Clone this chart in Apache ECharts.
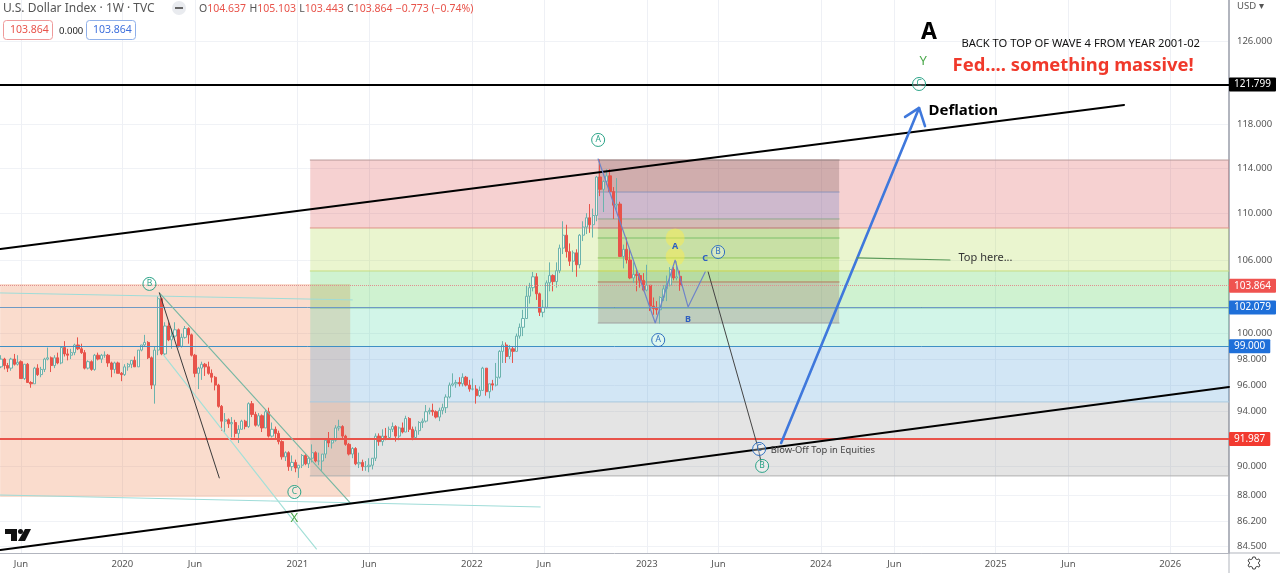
<!DOCTYPE html>
<html lang="en" style="height: 100%">
<head>
  <meta charset="utf-8">
</head>
<body style="height: 100%; margin: 0; background: #fff">
<div id="container" style="height: 100%"></div>

<script src="https://fastly.jsdelivr.net/npm/echarts@6/dist/echarts.min.js"></script>
<script>
  // weekly candles, first bar is the week of 2019-04-22
  var firstWeek = '2019-04-22';
  var opens = [
    97.4,98.0,97.5,97.3,98.0,97.6,97.8,96.5,97.6,96.2,96.1,97.3,96.8,97.2,98.0,98.1,97.5,98.1,97.7,98.9,98.4,98.3,98.5,99.1,98.8,98.5,97.3,97.8,97.2,98.3,98.0,98.3,98.3,97.7,97.2,97.7,96.9,
    96.8,97.4,97.6,97.9,97.4,98.7,99.1,99.3,98.1,96.0,98.7,102.8,98.4,100.6,99.5,99.8,100.3,99.0,99.7,100.4,99.9,98.3,96.9,97.3,97.6,97.4,96.9,96.6,96.0,94.4,93.3,93.4,93.1,93.2,92.4,92.7,93.3,92.9,94.6,93.8,93.0,93.7,92.8,94.0,92.2,92.7,92.4,91.8,90.7,91.0,90.0,90.3,
    89.9,90.1,90.8,90.2,90.6,91.0,90.4,90.4,90.9,91.9,91.7,91.9,92.8,92.9,92.2,91.6,90.9,91.3,90.2,90.3,90.0,90.0,90.1,90.6,92.2,91.8,92.2,92.1,92.7,92.9,92.2,92.8,92.5,93.5,92.7,92.1,92.6,93.2,93.3,94.0,94.1,94.0,93.6,94.1,94.3,95.1,96.0,96.1,96.2,96.1,96.6,96.0,
    95.7,95.7,95.2,95.6,97.3,95.5,96.1,96.0,96.6,98.6,99.1,98.2,98.8,98.6,99.8,100.5,101.2,103.0,103.7,104.6,103.2,101.7,102.1,104.1,104.7,104.2,105.1,107.0,108.1,106.7,105.9,106.6,105.6,108.1,108.8,109.6,109.0,109.8,113.2,112.1,112.8,113.3,111.9,110.7,110.8,106.3,106.9,106.0,104.5,104.8,104.7,104.3,
    103.5,103.9,102.2,102.0,101.9,102.9,103.6,103.9,105.2,104.5,104.637
  ];
  var highs = [
    98.3,98.1,97.7,98.1,98.4,98.3,97.9,97.6,97.7,96.3,97.4,97.6,97.4,98.1,98.9,98.2,98.3,98.5,99.0,99.4,98.8,98.8,99.2,99.7,99.2,98.7,97.9,97.9,98.4,98.5,98.4,98.6,98.4,97.8,97.8,97.8,97.0,
    97.6,97.7,97.9,98.2,98.7,99.1,99.9,99.4,98.2,99.0,102.99,102.9,100.9,100.9,100.4,100.9,100.4,100.0,100.6,100.5,100.0,98.4,97.4,97.8,97.7,97.8,97.2,96.7,96.1,94.5,93.9,93.5,93.6,93.4,93.0,93.4,93.4,94.7,94.8,94.0,93.9,93.8,94.2,94.3,93.2,92.9,92.6,91.9,91.1,91.1,90.8,90.5,
    90.1,90.9,90.9,90.7,91.6,91.1,91.0,90.9,92.0,92.5,92.0,93.0,93.4,93.0,92.3,91.7,91.4,91.4,91.0,90.5,90.4,90.6,90.6,92.4,92.4,92.7,92.8,92.9,93.2,93.0,92.9,93.2,93.7,93.6,92.9,92.9,93.3,93.5,94.5,94.3,94.6,94.1,94.3,94.6,95.3,96.2,96.9,96.4,96.6,96.9,96.7,96.4,
    96.5,96.0,95.9,97.4,97.3,96.1,96.4,97.7,98.7,99.4,99.3,99.1,99.0,100.0,100.8,101.9,103.9,104.1,105.0,104.9,103.3,102.7,104.3,105.8,104.8,105.8,107.3,109.3,109.0,107.4,106.8,106.9,108.2,109.3,110.0,110.8,110.4,113.3,114.78,112.9,113.9,113.9,112.3,113.1,111.0,107.3,107.9,107.0,105.8,105.2,104.9,104.9,
    105.6,103.9,102.9,102.6,103.0,103.9,104.7,105.4,105.4,105.9,105.103
  ];
  var lows = [
    97.3,97.2,97.0,97.1,97.5,97.5,96.5,96.4,96.2,95.8,96.1,96.7,96.6,97.0,97.9,97.0,97.3,97.6,97.6,98.2,97.9,98.0,98.3,98.7,98.4,97.2,97.2,97.1,97.1,97.9,97.7,98.1,97.4,96.6,96.9,96.9,96.3,
    96.7,97.1,97.3,97.4,97.4,98.6,99.0,98.0,95.7,94.6,98.3,98.3,98.3,99.4,98.8,99.6,98.9,98.9,99.6,99.2,98.2,96.6,95.7,96.4,96.7,96.8,96.2,95.6,94.3,92.6,92.5,92.8,92.1,92.1,91.7,92.7,92.7,92.8,93.6,92.9,92.9,92.5,92.8,92.1,92.1,92.0,91.6,90.5,90.4,89.7,89.7,89.6,
    89.2,89.9,90.1,89.9,90.3,90.3,90.1,89.7,90.6,91.4,91.3,91.8,92.6,92.0,91.5,90.8,90.6,90.1,89.9,89.7,89.7,89.6,89.8,90.4,91.5,91.5,91.9,92.1,92.5,91.8,91.9,92.4,92.5,92.5,91.9,92.0,92.3,92.8,93.2,93.8,93.7,93.5,93.3,93.8,93.9,95.0,95.9,95.8,95.9,95.9,95.9,95.5,
    95.6,94.6,95.1,95.6,95.2,95.0,95.6,95.9,96.5,97.7,97.7,98.0,97.7,98.6,99.6,99.8,101.2,102.4,103.4,102.7,101.4,101.3,102.0,103.4,103.4,103.7,104.9,106.5,106.2,105.5,105.0,104.6,105.3,107.6,108.2,108.3,107.9,109.3,111.5,110.1,112.5,111.9,109.5,110.3,106.3,105.3,105.7,104.4,104.1,103.4,103.7,103.4,
    103.4,101.8,101.5,101.5,100.8,102.6,102.6,103.8,104.3,104.3,103.443
  ];
  var closes = [
    98.0,97.5,97.3,98.0,97.6,97.75,96.5,97.6,96.2,96.1,97.3,96.8,97.2,98.0,98.1,97.5,98.1,97.7,98.9,98.4,98.3,98.5,99.1,98.8,98.5,97.3,97.8,97.2,98.3,98.0,98.3,98.3,97.7,97.2,97.7,96.9,96.8,
    97.4,97.6,97.9,97.4,98.7,99.1,99.3,98.1,96.0,98.7,102.8,98.4,100.6,99.5,99.8,100.3,99.0,99.7,100.4,99.9,98.3,96.9,97.3,97.6,97.4,96.9,96.6,96.0,94.4,93.3,93.4,93.1,93.2,92.4,92.7,93.3,92.9,94.6,93.8,93.0,93.7,92.8,94.0,92.2,92.7,92.4,91.8,90.7,91.0,90.0,90.3,89.9,
    90.1,90.8,90.2,90.6,91.0,90.4,90.4,90.9,91.9,91.7,91.9,92.8,92.9,92.2,91.6,90.9,91.3,90.2,90.3,90.0,90.0,90.1,90.6,92.2,91.8,92.2,92.1,92.7,92.9,92.2,92.8,92.5,93.5,92.7,92.1,92.6,93.2,93.3,94.0,94.1,94.0,93.6,94.1,94.3,95.1,96.0,96.1,96.2,96.1,96.6,96.0,95.7,
    95.7,95.2,95.6,97.3,95.5,96.1,96.0,96.6,98.6,99.1,98.2,98.8,98.6,99.8,100.5,101.2,103.0,103.7,104.6,103.2,101.7,102.1,104.1,104.7,104.2,105.1,107.0,108.1,106.7,105.9,106.6,105.6,108.1,108.8,109.6,109.0,109.8,113.2,112.1,112.8,113.3,111.9,110.7,110.8,106.3,106.9,106.0,104.5,104.8,104.7,104.3,103.5,
    103.9,102.2,102.0,101.9,102.9,103.6,103.9,105.2,104.5,104.6,103.864
  ];

  // axes
  var priceTicks = [84.5, 86.2, 88, 90, 94, 96, 98, 100, 106, 110, 114, 118, 126];
  var timeTicks = [
    ['2019-06-03', 'Jun'], ['2020-01-01', '2020'], ['2020-06-01', 'Jun'], ['2021-01-01', '2021'],
    ['2021-06-01', 'Jun'], ['2022-01-01', '2022'], ['2022-06-01', 'Jun'], ['2023-01-02', '2023'],
    ['2023-06-01', 'Jun'], ['2024-01-01', '2024'], ['2024-06-03', 'Jun'], ['2025-01-01', '2025'],
    ['2025-06-02', 'Jun'], ['2026-01-01', '2026']
  ];
  var priceRange = [84.05, 130.23];
  var timeRange = ['2019-04-20', '2026-05-04'];

  // drawn levels: the first fib runs from 2021 to the right edge, the old one on the left
  var wideFib = [114.73, 108.72, 105.08, 102.079, 99.0, 94.73, 89.34];
  var narrowFib = [114.73, 111.86, 109.5, 108.72, 107.86, 106.17, 105.08, 104.17, 102.079, 100.84];
  var oldBox = [2019.3, 2021.305, 104.01, 87.86];
  var wideFibFrom = 2021.076;
  var narrowFibFrom = 2022.725;
  var narrowFibTo = 2024.105;
  var chartEnd = 2026.338;

  // trend lines as [decimal year, price]
  var upperChannel = [[2019.3015, 106.93], [2025.737, 119.84]];
  var lowerChannel = [[2019.3015, 84.25], [2026.338, 95.86]];
  var tealTop = [[2019.3015, 103.27], [2021.317, 102.7]];
  var tealBottom = [[2019.3015, 88.0], [2022.393, 87.17]];
  var wedgeUpper = [[2020.212, 103.27], [2021.305, 87.45]];
  var wedgeLower = [[2020.235, 98.32], [2020.945, 86.76], [2021.111, 84.32]];
  var thinFall = [[2020.212, 103.27], [2020.555, 89.2]];
  var zigzag = [[2022.725, 114.82], [2023.052, 100.84], [2023.166, 106.0], [2023.24, 102.13], [2023.338, 105.0]];
  var thinDrop = [[2023.355, 105.0], [2023.641, 91.34], [2023.658, 90.33]];
  var bigArrow = [[2023.773, 91.7], [2024.563, 119.56]];
  var arrowHead = [[2024.483, 118.71], [2024.563, 119.56], [2024.597, 117.86]];
  var topHere = [[2024.208, 106.17], [2024.74, 106.0]];

  // labels as [decimal year, price, text]
  var glowSpots = [[2023.166, 107.86], [2023.166, 106.3]];
  var greenCircles = [[2020.155, 104.01, 'B'], [2020.985, 88.21, 'C'], [2022.725, 116.57, 'A'], [2023.664, 90.05, 'B'], [2024.563, 121.85, 'C']];
  var blueCircles = [[2023.069, 99.49, 'A'], [2023.412, 106.67, 'B'], [2023.647, 91.27, 'C']];
  var blueLetters = [[2023.166, 107.18, 'A'], [2023.24, 101.16, 'B'], [2023.338, 106.17, 'C']];
  var greenLetters = [[2020.985, 86.42, 'X'], [2024.586, 124.09, 'Y']];
  var bigLetter = [[2024.62, 126.97, 'A']];
  var noteBack = [[2024.803, 125.77, 'BACK TO TOP OF WAVE 4 FROM YEAR 2001-02']];
  var noteFed = [[2024.752, 123.62, 'Fed.... something massive!']];
  var noteDeflation = [[2024.614, 119.3, 'Deflation']];
  var noteTop = [[2024.786, 106.17, 'Top here...']];
  var noteBlow = [[2023.71, 91.2, 'Blow-Off Top in Equities']];

  // price tags on the right
  var tagBlack = 121.799, tagLast = 103.864, tagBlueA = 102.079, tagBlueB = 99.0, tagRed = 91.987;

  function yr(y) {
    return Date.UTC(2020, 0, 1) + (y - 2020) * 365.25 * 86400000;
  }
  function pts(list) {
    return list.map(function (p) { return [yr(p[0])].concat(p.slice(1)); });
  }

  var candles = [];
  var t0 = Date.parse(firstWeek);
  for (var i = 0; i < closes.length; i++) {
    candles.push([t0 + i * 7 * 86400000, opens[i], closes[i], lows[i], highs[i]]);
  }

  function path(list, color, width, z) {
    return {
      type: 'line', data: pts(list), showSymbol: false, silent: true, animation: false,
      lineStyle: { color: color, width: width, cap: 'round' }, itemStyle: { color: color }, z: z || 6
    };
  }
  function hLine(y, from, to, color, width, z) {
    return path([[from, y], [to, y]], color, width, z);
  }
  function marks(list, size, itemStyle, labelStyle, z) {
    return {
      type: 'scatter', data: pts(list), symbolSize: size, silent: true, animation: false, z: z || 8,
      itemStyle: Object.assign({ opacity: 1 }, itemStyle),
      label: Object.assign({ show: true, position: 'inside', formatter: function (p) { return p.data[2]; }, fontFamily: 'Noto Sans' }, labelStyle)
    };
  }
  function note(list, labelStyle) {
    return marks(list, 1, { color: 'rgba(0,0,0,0)' }, Object.assign({ position: 'right', distance: 0 }, labelStyle), 9);
  }
  function band(x0, x1, y0, y1, color) {
    return [{ coord: [yr(x0), y0], itemStyle: { color: color } }, { coord: [yr(x1), y1] }];
  }
  function tag(value, color, lineColor, width, type) {
    return {
      yAxis: value,
      lineStyle: { color: lineColor, width: width, type: type || 'solid' },
      label: { show: true, position: 'end', distance: 0, formatter: value.toFixed(3), color: '#fff', backgroundColor: color, padding: [2, 5, 2, 5], fontSize: 10, fontFamily: 'Noto Sans', borderRadius: 1 }
    };
  }

  var wideColors = ['rgba(220,70,70,0.25)', 'rgba(171,215,63,0.25)', 'rgba(63,203,67,0.25)', 'rgba(75,215,163,0.25)', 'rgba(75,155,215,0.25)', 'rgba(130,130,130,0.22)'];
  var wideLines = ['#b89a9a', '#dd9488', '#c6dc80', '#2f9e6e', '#3f9cc8', '#a9c8de', '#b0b0b0'];
  var narrowColors = ['rgba(110,80,80,0.28)', 'rgba(88,116,196,0.25)', 'rgba(110,120,100,0.25)', 'rgba(100,165,40,0.25)', 'rgba(100,165,40,0.25)', 'rgba(120,190,40,0.25)', 'rgba(130,170,60,0.3)', 'rgba(150,120,100,0.32)', 'rgba(150,120,100,0.32)'];
  var narrowLines = ['#a08a8a', '#8d93b8', '#8fa890', '#b89088', '#7dc06a', '#8fc45e', '#c9d860', '#b5795c', '#2f9e6e', '#a0a0a0'];

  var bands = [band(oldBox[0], oldBox[1], oldBox[2], oldBox[3], 'rgba(235,115,55,0.25)')];
  wideColors.forEach(function (c, i) { bands.push(band(wideFibFrom, chartEnd, wideFib[i], wideFib[i + 1], c)); });
  narrowColors.forEach(function (c, i) { bands.push(band(narrowFibFrom, narrowFibTo, narrowFib[i], narrowFib[i + 1], c)); });

  var series = [
    {
      type: 'line', data: [], silent: true, animation: false, z: 1,
      markArea: { silent: true, animation: false, data: bands }
    },
    {
      type: 'candlestick', data: candles, barWidth: 2.7, silent: true, animation: false, z: 3,
      itemStyle: { color: 'rgba(255,255,255,0.55)', color0: '#e8534a', borderColor: '#6bb3ad', borderColor0: '#e8534a', borderWidth: 1 },
      markLine: {
        silent: true, animation: false, symbol: 'none', precision: 3,
        data: [
          tag(tagBlueA, '#1e6fd9', '#6f9ac4', 1),
          tag(tagBlueB, '#1e6fd9', '#3f8fc4', 1),
          tag(tagRed, '#f23a30', '#e8534a', 1.8),
          tag(tagLast, '#ef5350', '#e09090', 1, 'dotted'),
          tag(tagBlack, '#000', '#000', 2)
        ]
      }
    }
  ];
  wideFib.forEach(function (v, i) {
    if (v !== tagBlueB) series.push(hLine(v, wideFibFrom, chartEnd, wideLines[i], v === tagBlueA ? 1.2 : 1, 2));
  });
  narrowFib.forEach(function (v, i) { series.push(hLine(v, narrowFibFrom, narrowFibTo, narrowLines[i], 1, 2)); });
  series.push(
    path(tealTop, '#9fdcd8', 1),
    path(tealBottom, '#9fdcd8', 1),
    path(wedgeUpper, '#79b8a4', 1.2),
    path(wedgeLower, '#a4e0d8', 1.2),
    path(thinFall, '#3a3a3a', 1),
    path(upperChannel, '#000', 2),
    path(lowerChannel, '#000', 2),
    path(zigzag, '#6f84c8', 1.2),
    path(thinDrop, '#444', 1),
    path(bigArrow, '#3f78dc', 2.6),
    path(arrowHead, '#3f78dc', 2.6),
    path(topHere, '#5a9a5a', 1.2),
    marks(glowSpots, 19, { color: 'rgba(255,238,70,0.45)' }, { show: false }, 5),
    marks(greenCircles, 13, { color: 'rgba(255,255,255,0.3)', borderColor: '#2aa387', borderWidth: 1 }, { fontSize: 8.5, color: '#2aa387' }),
    marks(blueCircles, 13, { color: 'rgba(255,255,255,0.3)', borderColor: '#2f6fc0', borderWidth: 1 }, { fontSize: 8.5, color: '#2f6fc0' }),
    marks(blueLetters, 1, { color: 'rgba(0,0,0,0)' }, { fontSize: 9, fontWeight: 'bold', color: '#2f5fc0' }),
    marks(greenLetters, 1, { color: 'rgba(0,0,0,0)' }, { fontSize: 13, color: '#4aa84a' }),
    marks(bigLetter, 1, { color: 'rgba(0,0,0,0)' }, { fontSize: 23, fontWeight: 'bold', color: '#000' }),
    note(noteBack, { fontSize: 11.2, color: '#111' }),
    note(noteFed, { fontSize: 18.4, fontWeight: 'bold', color: '#f0392b' }),
    note(noteDeflation, { fontSize: 15, fontWeight: 'bold', color: '#000' }),
    note(noteTop, { fontSize: 11, color: '#333' }),
    note(noteBlow, { fontSize: 9.4, color: '#444' })
  );

  var dom = document.getElementById('container');
  var myChart = echarts.init(dom, null, { renderer: 'canvas' });

  var gearPoints = [[1252.8,557],[1255.2,557],[1255.6,558.8],[1257.2,559.6],[1258.9,558.9],[1260,561],[1258.6,562.1],[1258.6,563.9],[1260,565],[1258.9,567.1],[1257.2,566.4],[1255.6,567.2],[1255.2,569],[1252.8,569],[1252.4,567.2],[1250.8,566.4],[1249.1,567.1],[1248,565],[1249.4,563.9],[1249.4,562.1],[1248,561],[1249.1,558.9],[1250.8,559.6],[1252.4,558.8]];
  var font12 = 'Noto Sans';

  var option = {
    animation: false,
    backgroundColor: '#fff',
    grid: { left: 0, right: 51, top: 0, bottom: 20 },
    xAxis: {
      type: 'value',
      min: Date.parse(timeRange[0]),
      max: Date.parse(timeRange[1]),
      axisLine: { lineStyle: { color: '#b2b5be', width: 1 } },
      axisTick: { show: false, customValues: timeTicks.map(function (t) { return Date.parse(t[0]); }) },
      splitLine: { show: true, lineStyle: { color: '#eef0f5', width: 1 } },
      axisLabel: {
        customValues: timeTicks.map(function (t) { return Date.parse(t[0]); }),
        formatter: function (v) {
          var hit = timeTicks.filter(function (t) { return Date.parse(t[0]) === v; })[0];
          return hit ? hit[1] : '';
        },
        color: '#555', fontSize: 9.5, fontFamily: font12, margin: 6, hideOverlap: false
      }
    },
    yAxis: {
      type: 'log',
      position: 'right',
      min: priceRange[0],
      max: priceRange[1],
      axisLine: { show: true, lineStyle: { color: '#b2b5be', width: 2 } },
      axisTick: { show: false, customValues: priceTicks },
      minorTick: { show: false },
      minorSplitLine: { show: false },
      splitLine: { show: true, lineStyle: { color: '#f0f2f6', width: 1 } },
      axisLabel: {
        customValues: priceTicks,
        formatter: function (v) { return Number(v).toFixed(3); },
        color: '#555', fontSize: 9.5, fontFamily: font12, margin: 8, showMinLabel: true, showMaxLabel: true
      }
    },
    series: series,
    graphic: [
      { type: 'text', x: 3, y: 3, z: 20, style: { text: 'U.S. Dollar Index · 1W · TVC', font: '12px "Noto Sans"', fill: '#555' } },
      { type: 'circle', shape: { cx: 179, cy: 8, r: 7 }, z: 20, style: { fill: '#e9ebef' } },
      { type: 'rect', shape: { x: 175, y: 7, width: 8, height: 2 }, z: 21, style: { fill: '#666' } },
      { type: 'text', x: 199, y: 3, z: 20, style: { rich: {
        k: { fill: '#555', font: '10.5px "Noto Sans"' },
        v: { fill: '#e8534a', font: '10.5px "Noto Sans"' }
      }, text: '{k|O}{v|104.637} {k|H}{v|105.103} {k|L}{v|103.443} {k|C}{v|103.864} {v|−0.773 (−0.74%)}' } },
      { type: 'rect', shape: { x: 3.5, y: 20.5, width: 49, height: 19, r: 3 }, z: 20, style: { fill: '#fff', stroke: '#ef9a9a', lineWidth: 1 } },
      { type: 'text', x: 10, y: 25, z: 21, style: { text: '103.864', font: '10.5px "Noto Sans"', fill: '#e8534a' } },
      { type: 'text', x: 59, y: 26, z: 21, style: { text: '0.000', font: '9.5px "Noto Sans"', fill: '#222' } },
      { type: 'rect', shape: { x: 86.5, y: 20.5, width: 49, height: 19, r: 3 }, z: 20, style: { fill: '#fff', stroke: '#8fb0ea', lineWidth: 1 } },
      { type: 'text', x: 93, y: 25, z: 21, style: { text: '103.864', font: '10.5px "Noto Sans"', fill: '#3d6fdc' } },
      { type: 'text', x: 1237, y: 1, z: 20, style: { text: 'USD ▾', font: '9.5px "Noto Sans"', fill: '#555' } },
      // logo
      { type: 'polygon', shape: { points: [[5, 529], [17, 529], [17, 541], [11, 541], [11, 534], [5, 534]] }, z: 20, style: { fill: '#111' } },
      { type: 'circle', shape: { cx: 20.5, cy: 531.5, r: 2.5 }, z: 20, style: { fill: '#111' } },
      { type: 'polygon', shape: { points: [[25, 529], [31, 529], [25, 541], [18, 541]] }, z: 20, style: { fill: '#111' } },
      // settings gear
      { type: 'polygon', shape: { points: gearPoints }, z: 20, style: { fill: 'none', stroke: '#444', lineWidth: 1 } },
      { type: 'rect', shape: { x: 1229, y: 552.5, width: 51, height: 1 }, z: 20, style: { fill: '#b2b5be' } },
      { type: 'rect', shape: { x: 1228.5, y: 553, width: 1, height: 20 }, z: 20, style: { fill: '#b2b5be' } }
    ]
  };

  myChart.setOption(option);
  window.addEventListener('resize', myChart.resize);
</script>
</body>
</html>
